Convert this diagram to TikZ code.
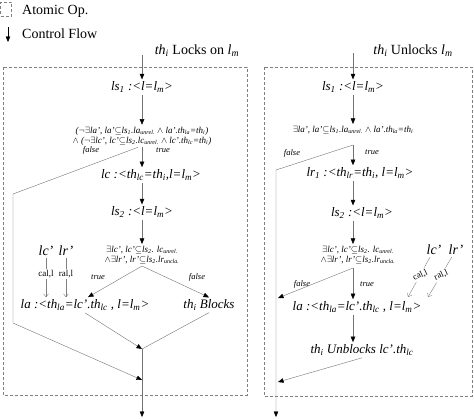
\documentclass[tikz,border=0pt]{standalone}
\usepackage{amssymb}
\usepackage{fontspec}
\setmainfont{Liberation Serif}
\usetikzlibrary{arrows.meta}
\newcommand{\sbs}[1]{\textsubscript{#1}}
\newcommand{\lm}{l\sbs{m}}

\begin{document}
\begin{tikzpicture}[x=1pt,y=-1pt]
\tikzstyle{every node}=[inner sep=2pt,font=\fontsize{13}{15}\selectfont]
\tikzstyle{ttl}=[font=\fontsize{14}{16}\selectfont]
\tikzstyle{cond}=[align=center,font=\fontsize{9}{10}\selectfont\itshape]
\tikzstyle{lbl}=[font=\fontsize{8.5}{9}\selectfont\itshape]
\tikzstyle{ext}=[font=\fontsize{9}{9}\selectfont,fill=white,inner sep=1pt]
\tikzstyle{prim}=[font=\fontsize{14}{15}\selectfont\itshape]
\tikzstyle{opbox}=[draw=gray,densely dashed]
\tikzstyle{flow}=[draw=gray!90!black,-{Triangle[black,length=5.5pt,width=4.5pt]}]
\tikzstyle{plain}=[draw=gray!90!black]
\tikzstyle{open}=[draw=gray,-{Straight Barb[length=3pt,width=5pt]}]
\useasboundingbox (0,0) rectangle (474,418);

\node[opbox,minimum width=11pt,minimum height=14pt,inner sep=0pt] (atom) at (6,9) {};
\node[ttl,anchor=west] (atomtxt) at (20,11) {Atomic Op.};
\coordinate (cf1) at (8,27); \coordinate (cf2) at (8,42);
\draw[flow,draw=black] (cf1) -- (cf2);
\node[ttl,anchor=west] (cftxt) at (20,34) {Control Flow};

\draw[opbox] (3,67) rectangle (247,395);
\draw[opbox] (264,67) rectangle (472,396);

\node[ttl] (ltitle) at (197,51) {\textit{th\sbs{i}} Locks on \textit{\lm}};
\coordinate (lin) at (142,55);
\node (lls1) at (142,87) {\textit{ls\sbs{1} :<l=\lm>}};
\node[cond] (lc1) at (142,136) {($\neg\exists$la', la'$\subseteq$ls\sbs{1}.la\sbs{unrel.} $\wedge$ la'.th\sbs{la}=th\sbs{i})\\$\wedge$ ($\neg\exists$lc', lc'$\subseteq$ls\sbs{2}.lc\sbs{unrel.} $\wedge$ lc'.th\sbs{lc}=th\sbs{i})};
\node (lc) at (151,175) {\textit{lc :<th\sbs{lc}=th\sbs{i},l=\lm>}};
\node (lls2) at (142,212) {\textit{ls\sbs{2} :<l=\lm>}};
\node[cond] (lc2) at (142,255) {$\exists$lc', lc'$\subseteq$ls\sbs{2}. lc\sbs{unrel.}\\$\wedge\exists$lr', lr'$\subseteq$ls\sbs{2}.lr\sbs{uncla.}};
\node (lla) at (85,305) {\textit{la :<th\sbs{la}=lc'.th\sbs{lc} , l=\lm>}};
\node (lblk) at (209,305) {\textit{th\sbs{i} Blocks}};
\node[prim] (llc) at (46,251) {lc'};
\node[prim] (llr) at (66,251) {lr'};
\node[lbl] (lfalse1) at (91,150) {false};
\node[lbl] (ltrue1) at (163,150) {true};
\node[lbl] (ltrue2) at (98,277) {true};
\node[lbl] (lfalse2) at (197,277) {false};
\coordinate (lf1) at (13,194); \coordinate (lf2) at (13,323);
\coordinate (lj) at (142,349); \coordinate (lm) at (142,380); \coordinate (lout) at (142,417);

\draw[flow] (lin) -- (lls1);
\draw[flow] (lls1) -- (lc1);
\draw[flow] (lc1.south) -- (lc1.south |- lc.north);
\draw[flow] ([xshift=-4pt]lc1.south) -- (lf1) -- (lf2) -- (lm);
\draw[flow] (lc1.south |- lc.south) -- (lls2);
\draw[flow] (lls2) -- (lc2);
\draw[flow] (lc2.south) -- ([xshift=3pt]lla.north);
\draw[flow] (lc2.south) -- (lblk.north);
\draw[open] (llc) -- (llc |- lla.north) node[ext,pos=.4] {cal,l};
\draw[open] (llr) -- (llr |- lla.north) node[ext,pos=.4] {ral,l};
\draw[flow] (lla.south) -- (lj);
\draw[plain] (lblk.south) -- (lj);
\draw[flow] (lj) -- (lout);

\node[ttl] (rtitle) at (413,51) {\textit{th\sbs{i}} Unlocks \textit{\lm}};
\coordinate (rin) at (353,53);
\node (rls1) at (353,87) {\textit{ls\sbs{1} :<l=\lm>}};
\node[cond] (rc1) at (353,130) {$\exists$la', la'$\subseteq$ls\sbs{1}.la\sbs{unrel.} $\wedge$ la'.th\sbs{la}=th\sbs{i}};
\coordinate (rfk) at (353,145);
\node (rlr) at (360,173) {\textit{lr\sbs{1} :<th\sbs{lr}=th\sbs{i}, l=\lm>}};
\node (rls2) at (362,213) {\textit{ls\sbs{2} :<l=\lm>}};
\node[cond] (rc2) at (358,255) {$\exists$lc', lc'$\subseteq$ls\sbs{2}. lc\sbs{unrel.}\\$\wedge\exists$lr', lr'$\subseteq$ls\sbs{2}.lr\sbs{uncla.}};
\node (rla) at (357,307) {\textit{la :<th\sbs{la}=lc'.th\sbs{lc} , l=\lm>}};
\node (runb) at (362,350) {\textit{th\sbs{i} Unblocks lc'.th\sbs{lc}}};
\node[prim] (rlc) at (434,250) {lc'};
\node[prim] (rlrp) at (456,250) {lr'};
\node[lbl] (rfalse1) at (292,153) {false};
\node[lbl] (rtrue1) at (372,152) {true};
\node[lbl] (rfalse2) at (302,284) {false};
\node[lbl] (rtrue2) at (367,284) {true};
\coordinate (rf1) at (276,170); \coordinate (rout) at (276,417);
\coordinate (rm1) at (278,298); \coordinate (rm2) at (278,382);
\coordinate (rca) at (408,297); \coordinate (rra) at (428,297);

\draw[flow] (rin) -- (rls1);
\draw[flow] (rls1) -- (rc1);
\draw[flow] (rfk) -- (rfk |- rlr.north);
\draw[flow] (rfk) -- (rf1) -- (rout);
\draw[flow] (rfk |- rlr.south) -- (rfk |- rls2.north);
\draw[flow] (rfk |- rls2.south) -- (rfk |- rc2.north);
\coordinate (rfk2) at ([yshift=-2pt]rc2.south -| rfk);
\draw[flow] (rfk2) -- (rfk2 |- rla.north);
\draw[flow] (rfk2) -- (rm1);
\draw[open] (rlc) -- (rca) node[ext,pos=.45,rotate=25] {cal,l};
\draw[open] (rlrp) -- (rra) node[ext,pos=.45,rotate=25] {ral,l};
\draw[flow] (rfk |- rla.south) -- (rfk |- runb.north);
\draw[flow] (runb.south) -- (rm2);
\end{tikzpicture}
\end{document}
